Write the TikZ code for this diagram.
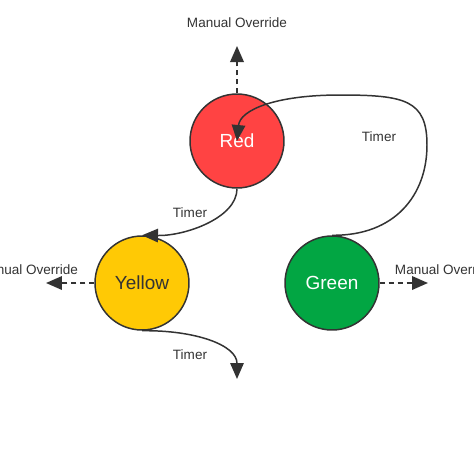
\documentclass[tikz,border=0pt]{standalone}
\usepackage{fontspec}
\setmainfont{Liberation Sans}
\usetikzlibrary{arrows.meta}
\definecolor{lampred}{HTML}{FF4343}
\definecolor{lampyellow}{HTML}{FFC905}
\definecolor{lampgreen}{HTML}{02A643}
\definecolor{inkgray}{HTML}{333333}
\begin{document}
\begin{tikzpicture}[x=0.02cm, y=-0.02cm,
    lamp/.style={circle, draw=inkgray, line width=0.85pt, minimum size=1.88cm, inner sep=0pt, font=\fontsize{10.8}{12}\selectfont},
    timer/.style={draw=inkgray, line width=0.85pt, -{Triangle[length=0.32cm, width=0.27cm]}},
    override/.style={draw=inkgray, line width=1.1pt, dash pattern=on 0.1cm off 0.08cm, -{Triangle[length=0.32cm, width=0.27cm]}},
    lbl/.style={text=inkgray, font=\fontsize{7.7}{9}\selectfont}]
    \useasboundingbox (0,0) rectangle (474,474);

    % Lamps
    \node[lamp, fill=lampred, text=white] (red) at (237,141) {Red};
    \node[lamp, fill=lampyellow, text=inkgray] (yellow) at (142,283) {Yellow};
    \node[lamp, fill=lampgreen, text=white] (green) at (332,283) {Green};

    % Ends of the override arrows
    \coordinate (Ored) at (237,46);
    \coordinate (Oyellow) at (46,283);
    \coordinate (Ogreen) at (428,283);
    \coordinate (Tyellow) at (237,379);

    % Manual override
    \draw[override] (red.north) -- (Ored);
    \draw[override] (yellow.west) -- (Oyellow);
    \draw[override] (green.east) -- (Ogreen);
    \node[lbl] (mored) at (237,23) {Manual Override};
    \node[lbl] (moyellow) at (28,270) {Manual Override};
    \node[lbl] (mogreen) at (445,270) {Manual Override};

    % Timer transitions
    \draw[timer] (red.south) .. controls (237,218) and (185,236) .. (yellow.north);
    \draw[timer] (green.north) .. controls (395,236) and (427,195) .. (427,145)
        .. controls (427,100) and (405,95) .. (340,95)
        .. controls (275,95) and (240,110) .. (red.center);
    \draw[timer] (yellow.south) .. controls (195,330) and (237,345) .. (Tyellow);
    \node[lbl] (tred) at (190,213) {Timer};
    \node[lbl] (tgreen) at (379,137) {Timer};
    \node[lbl] (tyellow) at (190,355) {Timer};
\end{tikzpicture}
\end{document}
